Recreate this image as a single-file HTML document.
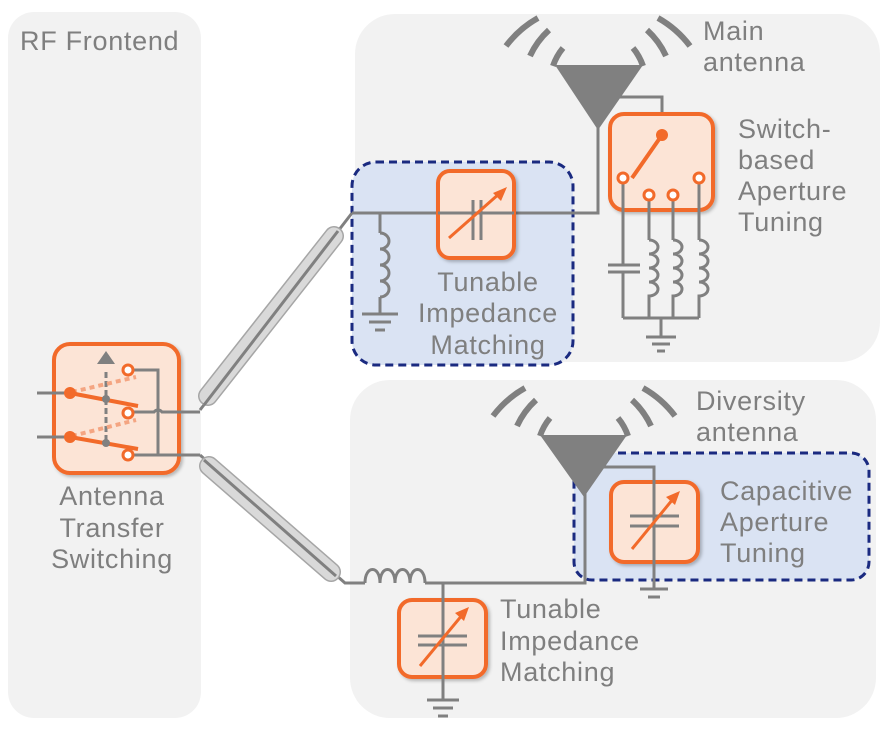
<!DOCTYPE html>
<html><head><meta charset="utf-8"><style>
html,body{margin:0;padding:0;background:#fff;}
svg{display:block;}
text{font-family:"Liberation Sans",sans-serif;font-size:27px;letter-spacing:0.7px;fill:#7f7f7f;}
</style></head><body>
<svg width="894" height="740" viewBox="0 0 894 740" xmlns="http://www.w3.org/2000/svg">
<defs>
<filter id="sh" x="-20%" y="-20%" width="140%" height="140%"><feDropShadow dx="2" dy="2" stdDeviation="1.5" flood-color="#000" flood-opacity="0.25"/></filter>
</defs>
<rect x="8" y="12" width="193" height="706" rx="26" fill="#f2f2f2"/>
<rect x="355" y="14" width="525" height="348" rx="40" fill="#f2f2f2"/>
<rect x="350" y="380" width="526" height="338" rx="40" fill="#f2f2f2"/>

<text x="20" y="50">RF Frontend</text>
<text x="112" y="505" text-anchor="middle">Antenna</text>
<text x="112" y="537" text-anchor="middle">Transfer</text>
<text x="112" y="568" text-anchor="middle">Switching</text>

<rect x="352" y="162" width="221" height="203" rx="24" fill="#dae3f3" stroke="#1a2a80" stroke-width="3" stroke-dasharray="8,5"/>
<rect x="574" y="453" width="295" height="127" rx="18" fill="#dae3f3" stroke="#1a2a80" stroke-width="3" stroke-dasharray="8,5"/>

<g stroke="#808080" stroke-width="3" fill="none">
<line x1="200" y1="410" x2="352" y2="213"/>
<polyline points="200,455 345,583 365,583"/>
</g>
<g fill="none">
<line x1="208" y1="396" x2="334" y2="236" stroke="#a6a6a6" stroke-width="20" stroke-linecap="round"/>
<line x1="208" y1="396" x2="334" y2="236" stroke="#d9d9d9" stroke-width="17" stroke-linecap="round"/>
<line x1="209" y1="466" x2="331" y2="572" stroke="#a6a6a6" stroke-width="20" stroke-linecap="round"/>
<line x1="209" y1="466" x2="331" y2="572" stroke="#d9d9d9" stroke-width="17" stroke-linecap="round"/>
</g>
<g stroke="#808080" stroke-width="3" fill="none">
<line x1="204" y1="405" x2="338" y2="231"/>
<line x1="204" y1="460" x2="336" y2="576"/>
</g>

<rect x="54" y="344" width="125" height="129" rx="16" fill="#fce4d6" stroke="#f26a2a" stroke-width="4" filter="url(#sh)"/>
<g stroke="#808080" stroke-width="3" fill="none">
<line x1="37" y1="393" x2="70" y2="393"/>
<line x1="37" y1="437" x2="70" y2="437"/>
<polyline points="133,370 158,370 158,455"/>
<path d="M133,412 L154,412 A5,5 0 0 1 162,412 L200,412"/>
<line x1="133" y1="455" x2="200" y2="455"/>
<line x1="106" y1="372" x2="106" y2="443" stroke-dasharray="6,3"/>
</g>
<polygon points="97,364 115,364 106,351" fill="#808080"/>
<g stroke="#f4a582" stroke-width="4" stroke-dasharray="5,4" fill="none">
<line x1="72" y1="392" x2="136" y2="377"/>
<line x1="72" y1="436" x2="136" y2="420"/>
</g>
<g stroke="#f26a2a" stroke-width="4" fill="none">
<line x1="70" y1="393" x2="138" y2="406"/>
<line x1="70" y1="437" x2="138" y2="449"/>
</g>
<circle cx="70" cy="393" r="6" fill="#f26a2a"/>
<circle cx="70" cy="437" r="6" fill="#f26a2a"/>
<circle cx="106" cy="399" r="4" fill="#808080"/>
<circle cx="106" cy="443" r="4" fill="#808080"/>
<g fill="#fff" stroke="#f26a2a" stroke-width="3">
<circle cx="128" cy="370" r="5"/>
<circle cx="128" cy="413" r="5"/>
<circle cx="128" cy="455" r="5"/>
</g>

<g stroke="#808080" stroke-width="3" fill="none">
<polyline points="352,213 598,213 598,120"/>
<polyline points="615,97 662,97 662,135"/>
<line x1="380" y1="213" x2="380" y2="233"/>
<path d="M380,233 a9,8 0 0 1 0,16 a9,8 0 0 1 0,16 a9,8 0 0 1 0,16 a9,8 0 0 1 0,16"/>
<line x1="380" y1="297" x2="380" y2="313"/>
<line x1="362" y1="314" x2="398" y2="314"/>
<line x1="369" y1="322" x2="391" y2="322"/>
<line x1="375" y1="330" x2="385" y2="330"/>
</g>
<polygon points="555,65 643,65 598,130" fill="#808080"/>
<g stroke="#808080" stroke-width="6" fill="none">
<path d="M553,66 A55,55 0 0 1 563,48"/>
<path d="M530,56 A80,80 0 0 1 549,30"/>
<path d="M506,46 A104,104 0 0 1 538,18"/>
<path d="M643,66 A55,55 0 0 0 633,48"/>
<path d="M666,56 A80,80 0 0 0 647,30"/>
<path d="M690,46 A104,104 0 0 0 658,18"/>
</g>
<text x="703" y="40">Main</text>
<text x="703" y="71">antenna</text>

<rect x="438" y="171" width="76" height="87" rx="12" fill="#fce4d6" stroke="#f26a2a" stroke-width="4" filter="url(#sh)"/>
<g stroke="#808080" stroke-width="3">
<line x1="473" y1="200" x2="473" y2="240"/>
<line x1="481" y1="200" x2="481" y2="240"/>
<line x1="438" y1="213" x2="514" y2="213"/>
</g>
<line x1="449" y1="238" x2="500" y2="193" stroke="#f26a2a" stroke-width="3"/>
<polygon points="507,187 493,193 501,201" fill="#f26a2a"/>
<text x="488" y="291" text-anchor="middle">Tunable</text>
<text x="488" y="322" text-anchor="middle">Impedance</text>
<text x="488" y="354" text-anchor="middle">Matching</text>

<rect x="610" y="114" width="103" height="96" rx="14" fill="#fce4d6" stroke="#f26a2a" stroke-width="4" filter="url(#sh)"/>
<g stroke="#808080" stroke-width="3" fill="none">
<line x1="623" y1="183" x2="623" y2="265"/>
<line x1="608" y1="265" x2="640" y2="265"/>
<line x1="608" y1="272" x2="640" y2="272"/>
<line x1="623" y1="272" x2="623" y2="318"/>
<line x1="649" y1="200" x2="649" y2="240"/>
<line x1="673" y1="200" x2="673" y2="240"/>
<line x1="699" y1="183" x2="699" y2="240"/>
<path d="M649,240 a9,7 0 0 1 0,14 a9,7 0 0 1 0,14 a9,7 0 0 1 0,14 a9,7 0 0 1 0,14 L649,318"/>
<path d="M673,240 a9,7 0 0 1 0,14 a9,7 0 0 1 0,14 a9,7 0 0 1 0,14 a9,7 0 0 1 0,14 L673,318"/>
<path d="M699,240 a9,7 0 0 1 0,14 a9,7 0 0 1 0,14 a9,7 0 0 1 0,14 a9,7 0 0 1 0,14 L699,318"/>
<line x1="623" y1="318" x2="699" y2="318"/>
<line x1="661" y1="318" x2="661" y2="336"/>
<line x1="646" y1="337" x2="676" y2="337"/>
<line x1="652" y1="344" x2="670" y2="344"/>
<line x1="657" y1="351" x2="665" y2="351"/>
</g>
<line x1="632" y1="178" x2="662" y2="135" stroke="#f26a2a" stroke-width="4"/>
<circle cx="662" cy="135" r="6" fill="#f26a2a"/>
<g fill="#fff" stroke="#f26a2a" stroke-width="3">
<circle cx="623" cy="178" r="5"/>
<circle cx="649" cy="195" r="5"/>
<circle cx="673" cy="195" r="5"/>
<circle cx="699" cy="178" r="5"/>
</g>
<text x="738" y="138">Switch-</text>
<text x="738" y="169">based</text>
<text x="738" y="200">Aperture</text>
<text x="738" y="231">Tuning</text>

<g stroke="#808080" stroke-width="3" fill="none">
<path d="M365,583 c0,-18 15,-18 15,0 c0,-18 15,-18 15,0 c0,-18 15,-18 15,0 c0,-18 15,-18 15,0"/>
<polyline points="425,583 585,583 585,485"/>
<polyline points="600,467 654,467 654,588"/>
<line x1="640" y1="589" x2="668" y2="589"/>
<line x1="648" y1="597" x2="660" y2="597"/>
</g>
<polygon points="540,435 627,435 584,497" fill="#808080"/>
<g stroke="#808080" stroke-width="6" fill="none">
<path d="M540,436 A55,55 0 0 1 550,418"/>
<path d="M517,426 A80,80 0 0 1 536,400"/>
<path d="M493,416 A104,104 0 0 1 525,388"/>
<path d="M628,436 A55,55 0 0 0 618,418"/>
<path d="M651,426 A80,80 0 0 0 632,400"/>
<path d="M675,416 A104,104 0 0 0 643,388"/>
</g>
<text x="696" y="410">Diversity</text>
<text x="696" y="441">antenna</text>

<rect x="611" y="482" width="87" height="80" rx="13" fill="#fce4d6" stroke="#f26a2a" stroke-width="4" filter="url(#sh)"/>
<g stroke="#808080" stroke-width="3">
<line x1="654" y1="467" x2="654" y2="588"/>
<line x1="630" y1="516" x2="679" y2="516"/>
<line x1="630" y1="526" x2="679" y2="526"/>
</g>
<line x1="632" y1="549" x2="673" y2="499" stroke="#f26a2a" stroke-width="3"/>
<polygon points="680,491 666,497 675,505" fill="#f26a2a"/>
<text x="720" y="500">Capacitive</text>
<text x="720" y="531">Aperture</text>
<text x="720" y="562">Tuning</text>

<rect x="399" y="600" width="87" height="77" rx="13" fill="#fce4d6" stroke="#f26a2a" stroke-width="4" filter="url(#sh)"/>
<g stroke="#808080" stroke-width="3">
<line x1="443" y1="583" x2="443" y2="700"/>
<line x1="418" y1="636" x2="467" y2="636"/>
<line x1="418" y1="645" x2="467" y2="645"/>
<line x1="427" y1="700" x2="459" y2="700"/>
<line x1="433" y1="708" x2="453" y2="708"/>
<line x1="438" y1="716" x2="448" y2="716"/>
</g>
<line x1="420" y1="666" x2="463" y2="614" stroke="#f26a2a" stroke-width="3"/>
<polygon points="469,607 455,613 464,621" fill="#f26a2a"/>
<text x="500" y="618">Tunable</text>
<text x="500" y="650">Impedance</text>
<text x="500" y="681">Matching</text>
</svg>
</body></html>
